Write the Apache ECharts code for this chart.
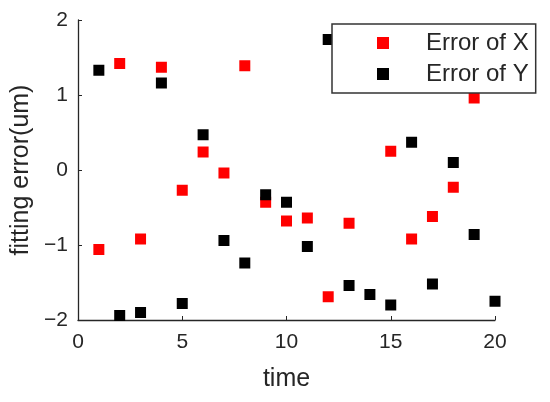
<!DOCTYPE html>
<html>
<head>
<meta charset="utf-8">
<script src="https://cdn.jsdelivr.net/npm/echarts@6/dist/echarts.min.js"></script>
<style>
  html, body { margin: 0; padding: 0; background: #fff; }
  #chart { width: 550px; height: 402px; }
</style>
</head>
<body>
<div id="chart"></div>
<script>
// time steps
var timeX = [1, 2, 3, 4, 5, 6, 7, 8, 9, 10, 11, 12, 13, 15, 16, 17, 18, 19];
var errX = [-1.06, 1.42, -0.92, 1.37, -0.27, 0.24, -0.04, 1.39, -0.43, -0.68, -0.64, -1.69, -0.71, 0.25, -0.92, -0.62, -0.23, 0.96];
var timeY = [1, 2, 3, 4, 5, 6, 7, 8, 9, 10, 11, 12, 13, 14, 15, 16, 17, 18, 19, 20];
var errY = [1.33, -1.94, -1.90, 1.16, -1.78, 0.47, -0.94, -1.24, -0.33, -0.43, -1.02, 1.74, -1.54, -1.66, -1.80, 0.37, -1.52, 0.10, -0.86, -1.75];

var xTicks = [0, 5, 10, 15, 20];
var yTicks = [-2, -1, 0, 1, 2];

function pairs(xs, ys) {
    var out = [];
    for (var i = 0; i < xs.length; i++) {
        out.push([xs[i], ys[i]]);
    }
    return out;
}

var font = 'Liberation Sans, Arial, sans-serif';
var axisCol = '#262626';

var myChart = echarts.init(document.getElementById('chart'), null, {renderer: 'canvas'});
var option = {
    animation: false,
    backgroundColor: '#fff',
    grid: {left: 78, right: 55, top: 20, bottom: 82},
    legend: {
        left: 332,
        top: 24,
        orient: 'vertical',
        icon: 'rect',
        itemWidth: 12,
        itemHeight: 12,
        itemGap: 7,
        padding: [7, 7, 7, 45],
        backgroundColor: '#fff',
        borderColor: '#333',
        borderWidth: 1.5,
        textStyle: {
            fontFamily: font,
            fontSize: 24,
            lineHeight: 24,
            color: axisCol,
            padding: [0, 0, 0, 32]
        },
        data: ['Error of X', 'Error of Y']
    },
    xAxis: {
        type: 'value',
        min: xTicks[0],
        max: xTicks[xTicks.length - 1],
        interval: 5,
        name: 'time',
        nameLocation: 'middle',
        nameGap: 47,
        nameTextStyle: {fontFamily: font, fontSize: 25, color: axisCol},
        axisLine: {show: true, onZero: false, lineStyle: {color: axisCol, width: 1.3}},
        axisTick: {show: true, inside: true, length: 4, lineStyle: {color: axisCol}},
        axisLabel: {fontFamily: font, fontSize: 21, color: axisCol, margin: 12},
        splitLine: {show: false}
    },
    yAxis: {
        type: 'value',
        min: yTicks[0],
        max: yTicks[yTicks.length - 1],
        interval: 1,
        name: 'fitting error(um)',
        nameLocation: 'middle',
        nameGap: 31,
        nameTextStyle: {fontFamily: font, fontSize: 25, color: axisCol},
        axisLine: {show: true, onZero: false, lineStyle: {color: axisCol, width: 1.3}},
        axisTick: {show: true, inside: true, length: 4, lineStyle: {color: axisCol}},
        axisLabel: {
            fontFamily: font, fontSize: 21, color: axisCol, margin: 10,
            formatter: function (v) { return String(v).replace('-', '\u2212'); }
        },
        splitLine: {show: false}
    },
    series: [
        {
            name: 'Error of X',
            type: 'scatter',
            symbol: 'rect',
            symbolSize: 11,
            itemStyle: {color: '#ff0000', opacity: 1},
            data: pairs(timeX, errX)
        },
        {
            name: 'Error of Y',
            type: 'scatter',
            symbol: 'rect',
            symbolSize: 11,
            itemStyle: {color: '#000000', opacity: 1},
            data: pairs(timeY, errY)
        }
    ]
};
myChart.setOption(option);
</script>
</body>
</html>
